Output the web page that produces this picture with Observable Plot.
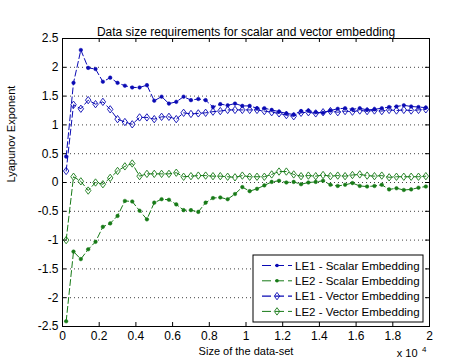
<!DOCTYPE html>
<html>
<head>
<meta charset="utf-8">
<script src="https://cdn.jsdelivr.net/npm/d3@7"></script>
<script src="https://cdn.jsdelivr.net/npm/@observablehq/plot@0.6"></script>
<style>
  html, body { margin: 0; padding: 0; background: #fff; }
  #chart { width: 474px; height: 361px; }
</style>
</head>
<body>
<div id="chart"></div>
<script>
const title = "Data size requirements for scalar and vector embedding";
const xLabel = "Size of the data-set";
const yLabel = "Lyapunov Exponent";

const sizes = [200, 600, 1000, 1400, 1800, 2200, 2600, 3000, 3400, 3800,
  4200, 4600, 5000, 5400, 5800, 6200, 6600, 7000, 7400, 7800,
  8200, 8600, 9000, 9400, 9800, 10200, 10600, 11000, 11400, 11800,
  12200, 12600, 13000, 13400, 13800, 14200, 14600, 15000, 15400, 15800,
  16200, 16600, 17000, 17400, 17800, 18200, 18600, 19000, 19400, 19800];

const le1Scalar = [0.45, 1.73, 2.30, 1.99, 1.97, 1.75, 1.82, 1.73, 1.68, 1.65,
  1.65, 1.69, 1.42, 1.49, 1.37, 1.40, 1.49, 1.43, 1.45, 1.43,
  1.31, 1.36, 1.34, 1.37, 1.33, 1.33, 1.29, 1.29, 1.26, 1.23,
  1.20, 1.18, 1.24, 1.25, 1.22, 1.21, 1.25, 1.28, 1.29, 1.27,
  1.29, 1.26, 1.27, 1.29, 1.31, 1.32, 1.34, 1.32, 1.31, 1.30];

const le2Scalar = [-2.41, -1.20, -1.33, -1.16, -1.03, -0.77, -0.71, -0.58, -0.32, -0.33,
  -0.49, -0.64, -0.35, -0.29, -0.30, -0.38, -0.48, -0.48, -0.51, -0.35,
  -0.27, -0.26, -0.29, -0.20, -0.08, -0.15, -0.11, -0.05, 0.01, 0.03,
  0.00, 0.01, -0.03, 0.00, 0.01, 0.03, -0.04, -0.06, -0.04, -0.01,
  -0.06, -0.07, -0.06, -0.04, -0.12, -0.10, -0.13, -0.12, -0.09, -0.07];

const le1Vector = [0.20, 1.35, 1.28, 1.43, 1.36, 1.40, 1.27, 1.10, 1.05, 1.01,
  1.13, 1.13, 1.10, 1.14, 1.14, 1.10, 1.21, 1.19, 1.20, 1.21,
  1.23, 1.24, 1.26, 1.26, 1.26, 1.26, 1.26, 1.24, 1.22, 1.20,
  1.17, 1.15, 1.21, 1.22, 1.20, 1.22, 1.24, 1.22, 1.24, 1.23,
  1.25, 1.24, 1.25, 1.24, 1.26, 1.25, 1.26, 1.25, 1.26, 1.27];

const le2Vector = [-1.00, 0.10, 0.02, -0.14, 0.00, -0.03, 0.08, 0.20, 0.28, 0.33,
  0.11, 0.15, 0.15, 0.15, 0.15, 0.17, 0.10, 0.11, 0.12, 0.12,
  0.11, 0.11, 0.10, 0.09, 0.12, 0.10, 0.10, 0.10, 0.14, 0.19,
  0.19, 0.14, 0.11, 0.12, 0.11, 0.13, 0.11, 0.12, 0.11, 0.13,
  0.14, 0.12, 0.11, 0.12, 0.09, 0.10, 0.10, 0.10, 0.10, 0.11];

const seriesNames = ["LE1 - Scalar Embedding", "LE2 - Scalar Embedding", "LE1 - Vector Embedding", "LE2 - Vector Embedding"];
const seriesValues = [le1Scalar, le2Scalar, le1Vector, le2Vector];
const seriesKinds = ["scalar", "scalar", "vector", "vector"];
const seriesColors = ["#0a0ab4", "#177a17", "#0a0ab4", "#177a17"];

const xTicks = [0, 2000, 4000, 6000, 8000, 10000, 12000, 14000, 16000, 18000, 20000];
const xTickLabels = ["0", "0.2", "0.4", "0.6", "0.8", "1", "1.2", "1.4", "1.6", "1.8", "2"];
const yTicks = [-2.5, -2, -1.5, -1, -0.5, 0, 0.5, 1, 1.5, 2, 2.5];
const yTickLabels = ["-2.5", "-2", "-1.5", "-1", "-0.5", "0", "0.5", "1", "1.5", "2", "2.5"];
const yGrid = [-2, -1.5, -1, -0.5, 0, 0.5, 1, 1.5, 2];

const FONT = "'Liberation Sans', Arial, Helvetica, sans-serif";
const W = 474, H = 361, ML = 62, MR = 45, MT = 38, MB = 35;
const PW = W - ML - MR, PH = H - MT - MB;
const TICK = 4;
const DASH = "6,3";

// tall diamond symbol (MATLAB 'd' marker)
const tallDiamond = {
  draw(context, size) {
    const r = Math.sqrt(size / Math.PI);
    const w = r * 0.78, h = r * 1.05;
    context.moveTo(0, -h);
    context.lineTo(w, 0);
    context.lineTo(0, h);
    context.lineTo(-w, 0);
    context.closePath();
  }
};

const seriesData = seriesNames.map((name, k) =>
  sizes.map((s, i) => ({size: s, value: seriesValues[k][i], series: name}))
);

const dataMarks = [];
seriesNames.forEach((name, k) => {
  const d = seriesData[k];
  const c = seriesColors[k];
  dataMarks.push(Plot.line(d, {x: "size", y: "value", stroke: c, strokeWidth: 1, strokeDasharray: DASH}));
  if (seriesKinds[k] === "scalar") {
    dataMarks.push(Plot.dot(d, {x: "size", y: "value", r: 1.8, fill: c, stroke: c, strokeWidth: 0.5}));
  } else {
    dataMarks.push(Plot.dot(d, {x: "size", y: "value", r: 3.5, symbol: tallDiamond, fill: "none", stroke: c, strokeWidth: 0.9}));
  }
});

const chart = Plot.plot({
  width: W, height: H,
  marginLeft: ML, marginRight: MR, marginTop: MT, marginBottom: MB,
  style: {fontFamily: FONT, fontSize: "12px", background: "#fff", color: "#000"},
  x: {domain: [0, 20000]},
  y: {domain: [-2.5, 2.5]},
  marks: [
    Plot.gridY(yGrid, {stroke: "#000", strokeOpacity: 0.75, strokeDasharray: "1,3", strokeWidth: 1}),
    ...dataMarks,
    Plot.frame({stroke: "#000", strokeWidth: 1}),
    // inward tick marks on all four sides
    Plot.tickX(xTicks, {x: d => d, insetTop: PH - TICK, stroke: "#000"}),
    Plot.tickX(xTicks, {x: d => d, insetBottom: PH - TICK, stroke: "#000"}),
    Plot.tickY(yTicks, {y: d => d, insetRight: PW - TICK, stroke: "#000"}),
    Plot.tickY(yTicks, {y: d => d, insetLeft: PW - TICK, stroke: "#000"}),
    Plot.axisX(xTicks, {anchor: "bottom", tickSize: 0, tickPadding: 5, tickFormat: (d, i) => xTickLabels[i], label: null, fontSize: 12}),
    Plot.axisY(yTicks, {anchor: "left", tickSize: 0, tickPadding: 4, tickFormat: (d, i) => yTickLabels[i], label: null, fontSize: 12}),
    Plot.text([title], {frameAnchor: "top", dy: -11, fontSize: 12}),
    Plot.text([xLabel], {frameAnchor: "bottom", dy: 28.5, fontSize: 11}),
    Plot.text([yLabel], {frameAnchor: "left", dx: -51, rotate: -90, fontSize: 11}),
    Plot.text(["x 10"], {frameAnchor: "bottom-right", dx: -12, dy: 30, fontSize: 11}),
    Plot.text(["4"], {frameAnchor: "bottom-right", dx: -3, dy: 25, fontSize: 8})
  ]
});

document.getElementById("chart").appendChild(chart);

// legend (MATLAB style box)
const svg = d3.select(chart);
const lg = svg.append("g").attr("font-family", FONT).attr("text-anchor", "start");
const LX = 253, LY = 255, LW = 170, LH = 67;
lg.append("rect").attr("x", LX).attr("y", LY).attr("width", LW).attr("height", LH)
  .attr("fill", "#fff").attr("stroke", "#000").attr("stroke-width", 1);
const rowY = [265.5, 280.8, 296.1, 311.4];
seriesNames.forEach((name, k) => {
  const y = rowY[k];
  const c = seriesColors[k];
  lg.append("line").attr("x1", 262).attr("x2", 292).attr("y1", y).attr("y2", y)
    .attr("stroke", c).attr("stroke-width", k === 2 ? 1.4 : 1).attr("stroke-dasharray", "9,4");
  if (seriesKinds[k] === "scalar") {
    lg.append("circle").attr("cx", 277).attr("cy", y).attr("r", 1.8).attr("fill", c);
  } else {
    lg.append("path").attr("d", `M277,${y - 3.7}L279.7,${y}L277,${y + 3.7}L274.3,${y}Z`)
      .attr("fill", "none").attr("stroke", c).attr("stroke-width", 0.9);
  }
  lg.append("text").attr("x", 295).attr("y", y).attr("dy", "0.36em")
    .attr("text-anchor", "start")
    .attr("font-size", "11.5px").attr("fill", "#000").text(name);
});
</script>
</body>
</html>
